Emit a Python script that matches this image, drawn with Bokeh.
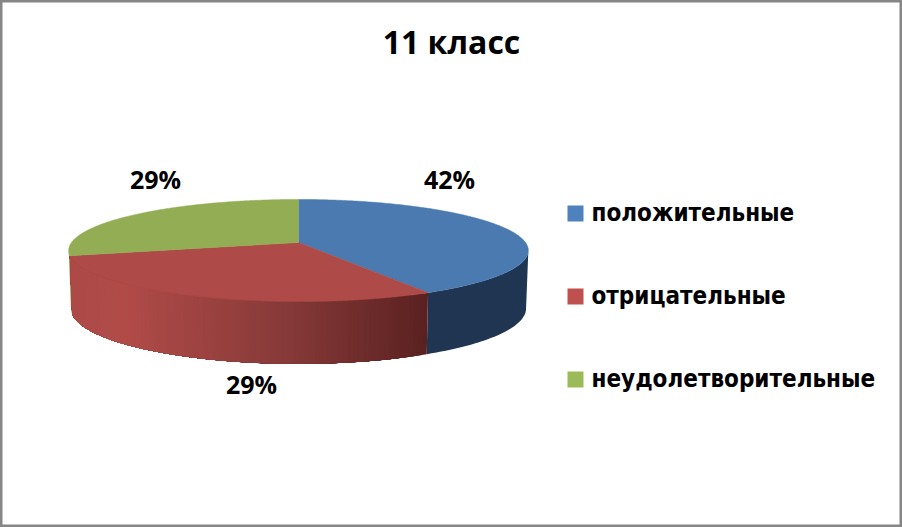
import numpy as np
from bokeh.plotting import figure
from bokeh.models import Range1d
from bokeh.core.properties import value
from bokeh.embed import file_html
from bokeh.resources import INLINE

title_text = "11 класс"
categories = ["положительные", "отрицательные", "неудолетворительные"]
percent = [41.8, 29.1, 29.1]
labels = ["42%", "29%", "29%"]

top_colors = ["#4a7ab0", "#ae4a47", "#93ad55"]
legend_colors = ["#4f81bd", "#c0504d", "#9bbb59"]
FONT = "Open Sans"
LEGEND_FONT = "DejaVu Sans Condensed"

# pie projection, in page pixels
CX, CY, A, B, K = 298.0, 242.0, 227.0, 49.8, 0.157
BOT_SX, BOT_CY, BOT_SY = 0.99, 299.3, 1.084


def rim(t):
    u, v = np.sin(t), np.cos(t)
    d = 1 + K * v
    return A * u / d, -B * v / d


def top_xy(t):
    dx, dy = rim(t)
    return CX + dx, CY + dy


def bot_xy(t):
    dx, dy = rim(t)
    return CX + BOT_SX * dx, BOT_CY + BOT_SY * dy


def lerp_color(x, xs, cols):
    rgb = [np.interp(x, xs, [int(c[i:i + 2], 16) for c in cols]) for i in (1, 3, 5)]
    return "#%02x%02x%02x" % tuple(int(round(c)) for c in rgb)


p = figure(width=902, height=527, x_range=Range1d(0, 902), y_range=Range1d(527, 0),
           output_backend="svg", toolbar_location=None, min_border=0,
           x_axis_location=None, y_axis_location=None, background_fill_color="white",
           border_fill_color="white", outline_line_color="#868686", outline_line_width=4,
           styles={"position": "absolute", "left": "0px", "top": "0px"})
p.grid.visible = False

shares = np.array(percent, dtype=float) / sum(percent)
edges = np.concatenate([[0.0], np.cumsum(shares)]) * 2 * np.pi
# the widest points of the outline: the side wall is visible only between them
wall_from = np.pi - np.arcsin(np.sqrt(1 - K ** 2))
wall_to = 2 * np.pi - wall_from

red_stops_x = [70, 125, 290, 427]
red_stops_c = ["#ad4a47", "#b04b48", "#853938", "#5a2120"]


def wall(t0, t1, n=40):
    ts = np.linspace(t0, t1, n)
    tx, ty = top_xy(ts)
    bx, by = bot_xy(ts)
    return np.r_[tx, bx[::-1]], np.r_[ty, by[::-1]]


# blue wall: one flat colour
x, y = wall(max(edges[0], wall_from), edges[1])
p.patch(x, y, fill_color="#1f3551", line_color=None)

# green wall: the sliver at the far left
x, y = wall(edges[2], wall_to, 10)
p.patch(x, y, fill_color="#8aa64f", line_color=None)

# red wall: overlapping bands, each running on to the far end, so no seams show
a0, a1 = edges[1], edges[2]
steps = np.linspace(a0, a1, 90)
bands_x, bands_y, band_c = [], [], []
for t0, t1 in zip(steps[:-1], steps[1:]):
    x, y = wall(t0, a1, 60)
    bands_x.append(x)
    bands_y.append(y)
    mid, _ = top_xy((t0 + t1) / 2)
    band_c.append(lerp_color(mid, red_stops_x, red_stops_c))
p.patches(bands_x, bands_y, fill_color=band_c, line_color=None)

for i, color in enumerate(top_colors):
    ts = np.linspace(edges[i], edges[i + 1], 240)
    rx, ry = top_xy(ts)
    p.patch(np.r_[CX, rx], np.r_[CY, ry], fill_color=color, line_color=color, line_width=0.5)

# pie labels
label_x = [449, 155, 251]
label_y = [178, 178, 383]
p.text(label_x, label_y, text=labels, text_font=value(FONT), text_font_style="bold",
       text_font_size="25px", text_align="center", text_baseline="middle", text_color="black")

# title
p.text([451], [41], text=[title_text], text_font=value(FONT), text_font_style="bold",
       text_font_size="32px", text_align="center", text_baseline="middle", text_color="black")

# legend
legend_y = [213, 296, 379]
legend_text_y = [212, 295, 378]
p.rect([575] * 3, legend_y, width=16, height=16, fill_color=legend_colors, line_color=None)
p.text([591] * 3, legend_text_y, text=categories, text_font=value(LEGEND_FONT), text_font_style="bold",
       text_font_size="24px", text_align="left", text_baseline="middle", text_color="black")

open("out.html", "w").write(file_html(p, INLINE))
